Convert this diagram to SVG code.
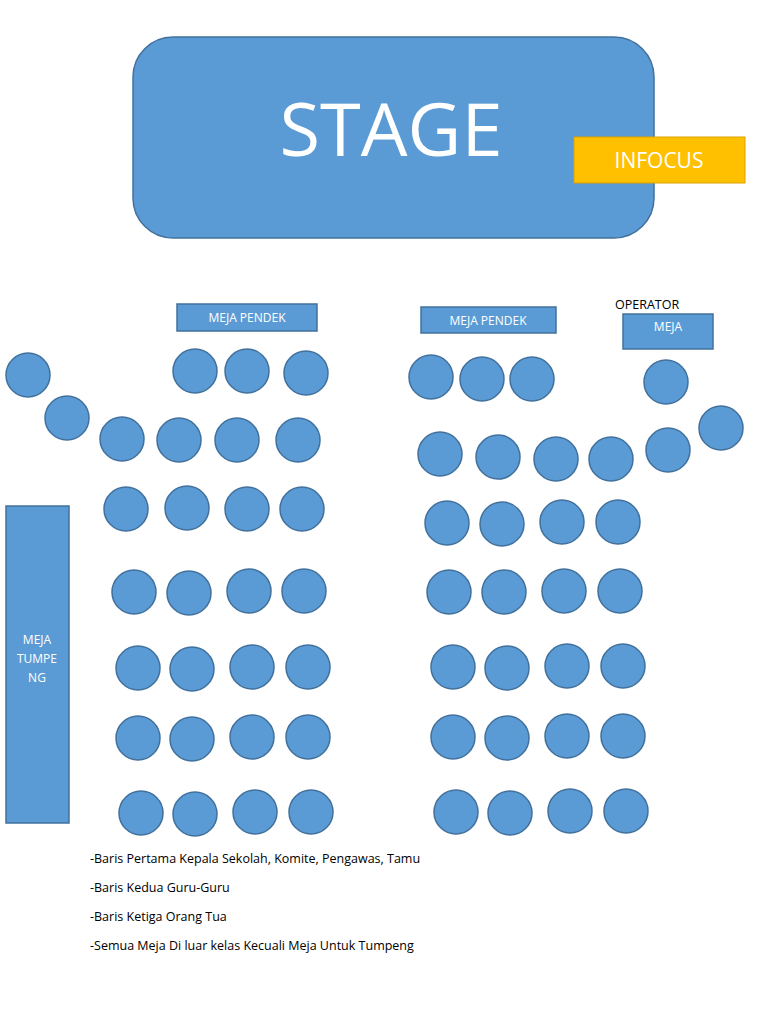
<svg xmlns="http://www.w3.org/2000/svg" width="768" height="1024" viewBox="0 0 768 1024">
<style>
.b{fill:#5B9BD5;stroke:#41719C;stroke-width:1.5}
.w{fill:#fff;font-family:"Open Sans","Liberation Sans",sans-serif}
.k{fill:#000;font-family:"Open Sans","Liberation Sans",sans-serif;font-size:12.5px}
</style>
<rect width="768" height="1024" fill="#fff"/>
<g id="stage"><rect class="b" x="133" y="37" width="521" height="201" rx="40"/>
<text class="w" x="391" y="156" font-size="74" text-anchor="middle">STAGE</text></g>
<g id="infocus"><rect x="574" y="137" width="171" height="46" fill="#FFC000" stroke="#D9A300"/>
<text class="w" x="659" y="168" font-size="21" text-anchor="middle">INFOCUS</text></g>
<g id="meja-pendek-1"><rect class="b" x="177" y="304" width="140" height="27"/><text class="w" x="247" y="322" font-size="12" text-anchor="middle">MEJA PENDEK</text></g>
<g id="meja-pendek-2"><rect class="b" x="421" y="307" width="135" height="26"/><text class="w" x="488" y="325" font-size="12" text-anchor="middle">MEJA PENDEK</text></g>
<g id="operator"><text class="k" x="615" y="309">OPERATOR</text><rect class="b" x="623" y="314" width="90" height="35"/><text class="w" x="668" y="331" font-size="12" text-anchor="middle">MEJA</text></g>
<g id="meja-tumpeng"><rect class="b" x="6" y="506" width="63" height="317"/>
<text class="w" font-size="12" text-anchor="middle"><tspan x="37" y="644">MEJA</tspan><tspan x="37" y="663">TUMPE</tspan><tspan x="37" y="682">NG</tspan></text></g>
<g id="chairs">
<circle class="b" cx="28" cy="375" r="22"/><circle class="b" cx="67" cy="418" r="22"/>
<circle class="b" cx="195" cy="371" r="22"/><circle class="b" cx="247" cy="371" r="22"/><circle class="b" cx="306" cy="373" r="22"/>
<circle class="b" cx="122" cy="439" r="22"/><circle class="b" cx="179" cy="440" r="22"/><circle class="b" cx="237" cy="440" r="22"/><circle class="b" cx="298" cy="440" r="22"/>
<circle class="b" cx="126" cy="509" r="22"/><circle class="b" cx="187" cy="508" r="22"/><circle class="b" cx="247" cy="509" r="22"/><circle class="b" cx="302" cy="509" r="22"/>
<circle class="b" cx="134" cy="592" r="22"/><circle class="b" cx="189" cy="593" r="22"/><circle class="b" cx="249" cy="591" r="22"/><circle class="b" cx="304" cy="591" r="22"/>
<circle class="b" cx="138" cy="668" r="22"/><circle class="b" cx="192" cy="669" r="22"/><circle class="b" cx="252" cy="667" r="22"/><circle class="b" cx="308" cy="667" r="22"/>
<circle class="b" cx="138" cy="738" r="22"/><circle class="b" cx="192" cy="739" r="22"/><circle class="b" cx="252" cy="737" r="22"/><circle class="b" cx="308" cy="737" r="22"/>
<circle class="b" cx="141" cy="813" r="22"/><circle class="b" cx="195" cy="814" r="22"/><circle class="b" cx="255" cy="812" r="22"/><circle class="b" cx="311" cy="812" r="22"/>
<circle class="b" cx="431" cy="377" r="22"/><circle class="b" cx="482" cy="379" r="22"/><circle class="b" cx="532" cy="379" r="22"/>
<circle class="b" cx="666" cy="382" r="22"/><circle class="b" cx="721" cy="428" r="22"/>
<circle class="b" cx="440" cy="454" r="22"/><circle class="b" cx="498" cy="457" r="22"/><circle class="b" cx="556" cy="459" r="22"/><circle class="b" cx="611" cy="459" r="22"/><circle class="b" cx="668" cy="450" r="22"/>
<circle class="b" cx="447" cy="523" r="22"/><circle class="b" cx="502" cy="524" r="22"/><circle class="b" cx="562" cy="522" r="22"/><circle class="b" cx="618" cy="522" r="22"/>
<circle class="b" cx="449" cy="592" r="22"/><circle class="b" cx="504" cy="592" r="22"/><circle class="b" cx="564" cy="591" r="22"/><circle class="b" cx="620" cy="591" r="22"/>
<circle class="b" cx="453" cy="667" r="22"/><circle class="b" cx="507" cy="668" r="22"/><circle class="b" cx="567" cy="666" r="22"/><circle class="b" cx="623" cy="666" r="22"/>
<circle class="b" cx="453" cy="737" r="22"/><circle class="b" cx="507" cy="738" r="22"/><circle class="b" cx="567" cy="736" r="22"/><circle class="b" cx="623" cy="736" r="22"/>
<circle class="b" cx="456" cy="812" r="22"/><circle class="b" cx="510" cy="813" r="22"/><circle class="b" cx="570" cy="811" r="22"/><circle class="b" cx="626" cy="811" r="22"/>
</g>
<g id="notes">
<text class="k" x="90" y="863">-Baris Pertama Kepala Sekolah, Komite, Pengawas, Tamu</text>
<text class="k" x="90" y="892">-Baris Kedua Guru-Guru</text>
<text class="k" x="90" y="921">-Baris Ketiga Orang Tua</text>
<text class="k" x="90" y="950">-Semua Meja Di luar kelas Kecuali Meja Untuk Tumpeng</text>
</g>
<g id="connectors"/>
</svg>
